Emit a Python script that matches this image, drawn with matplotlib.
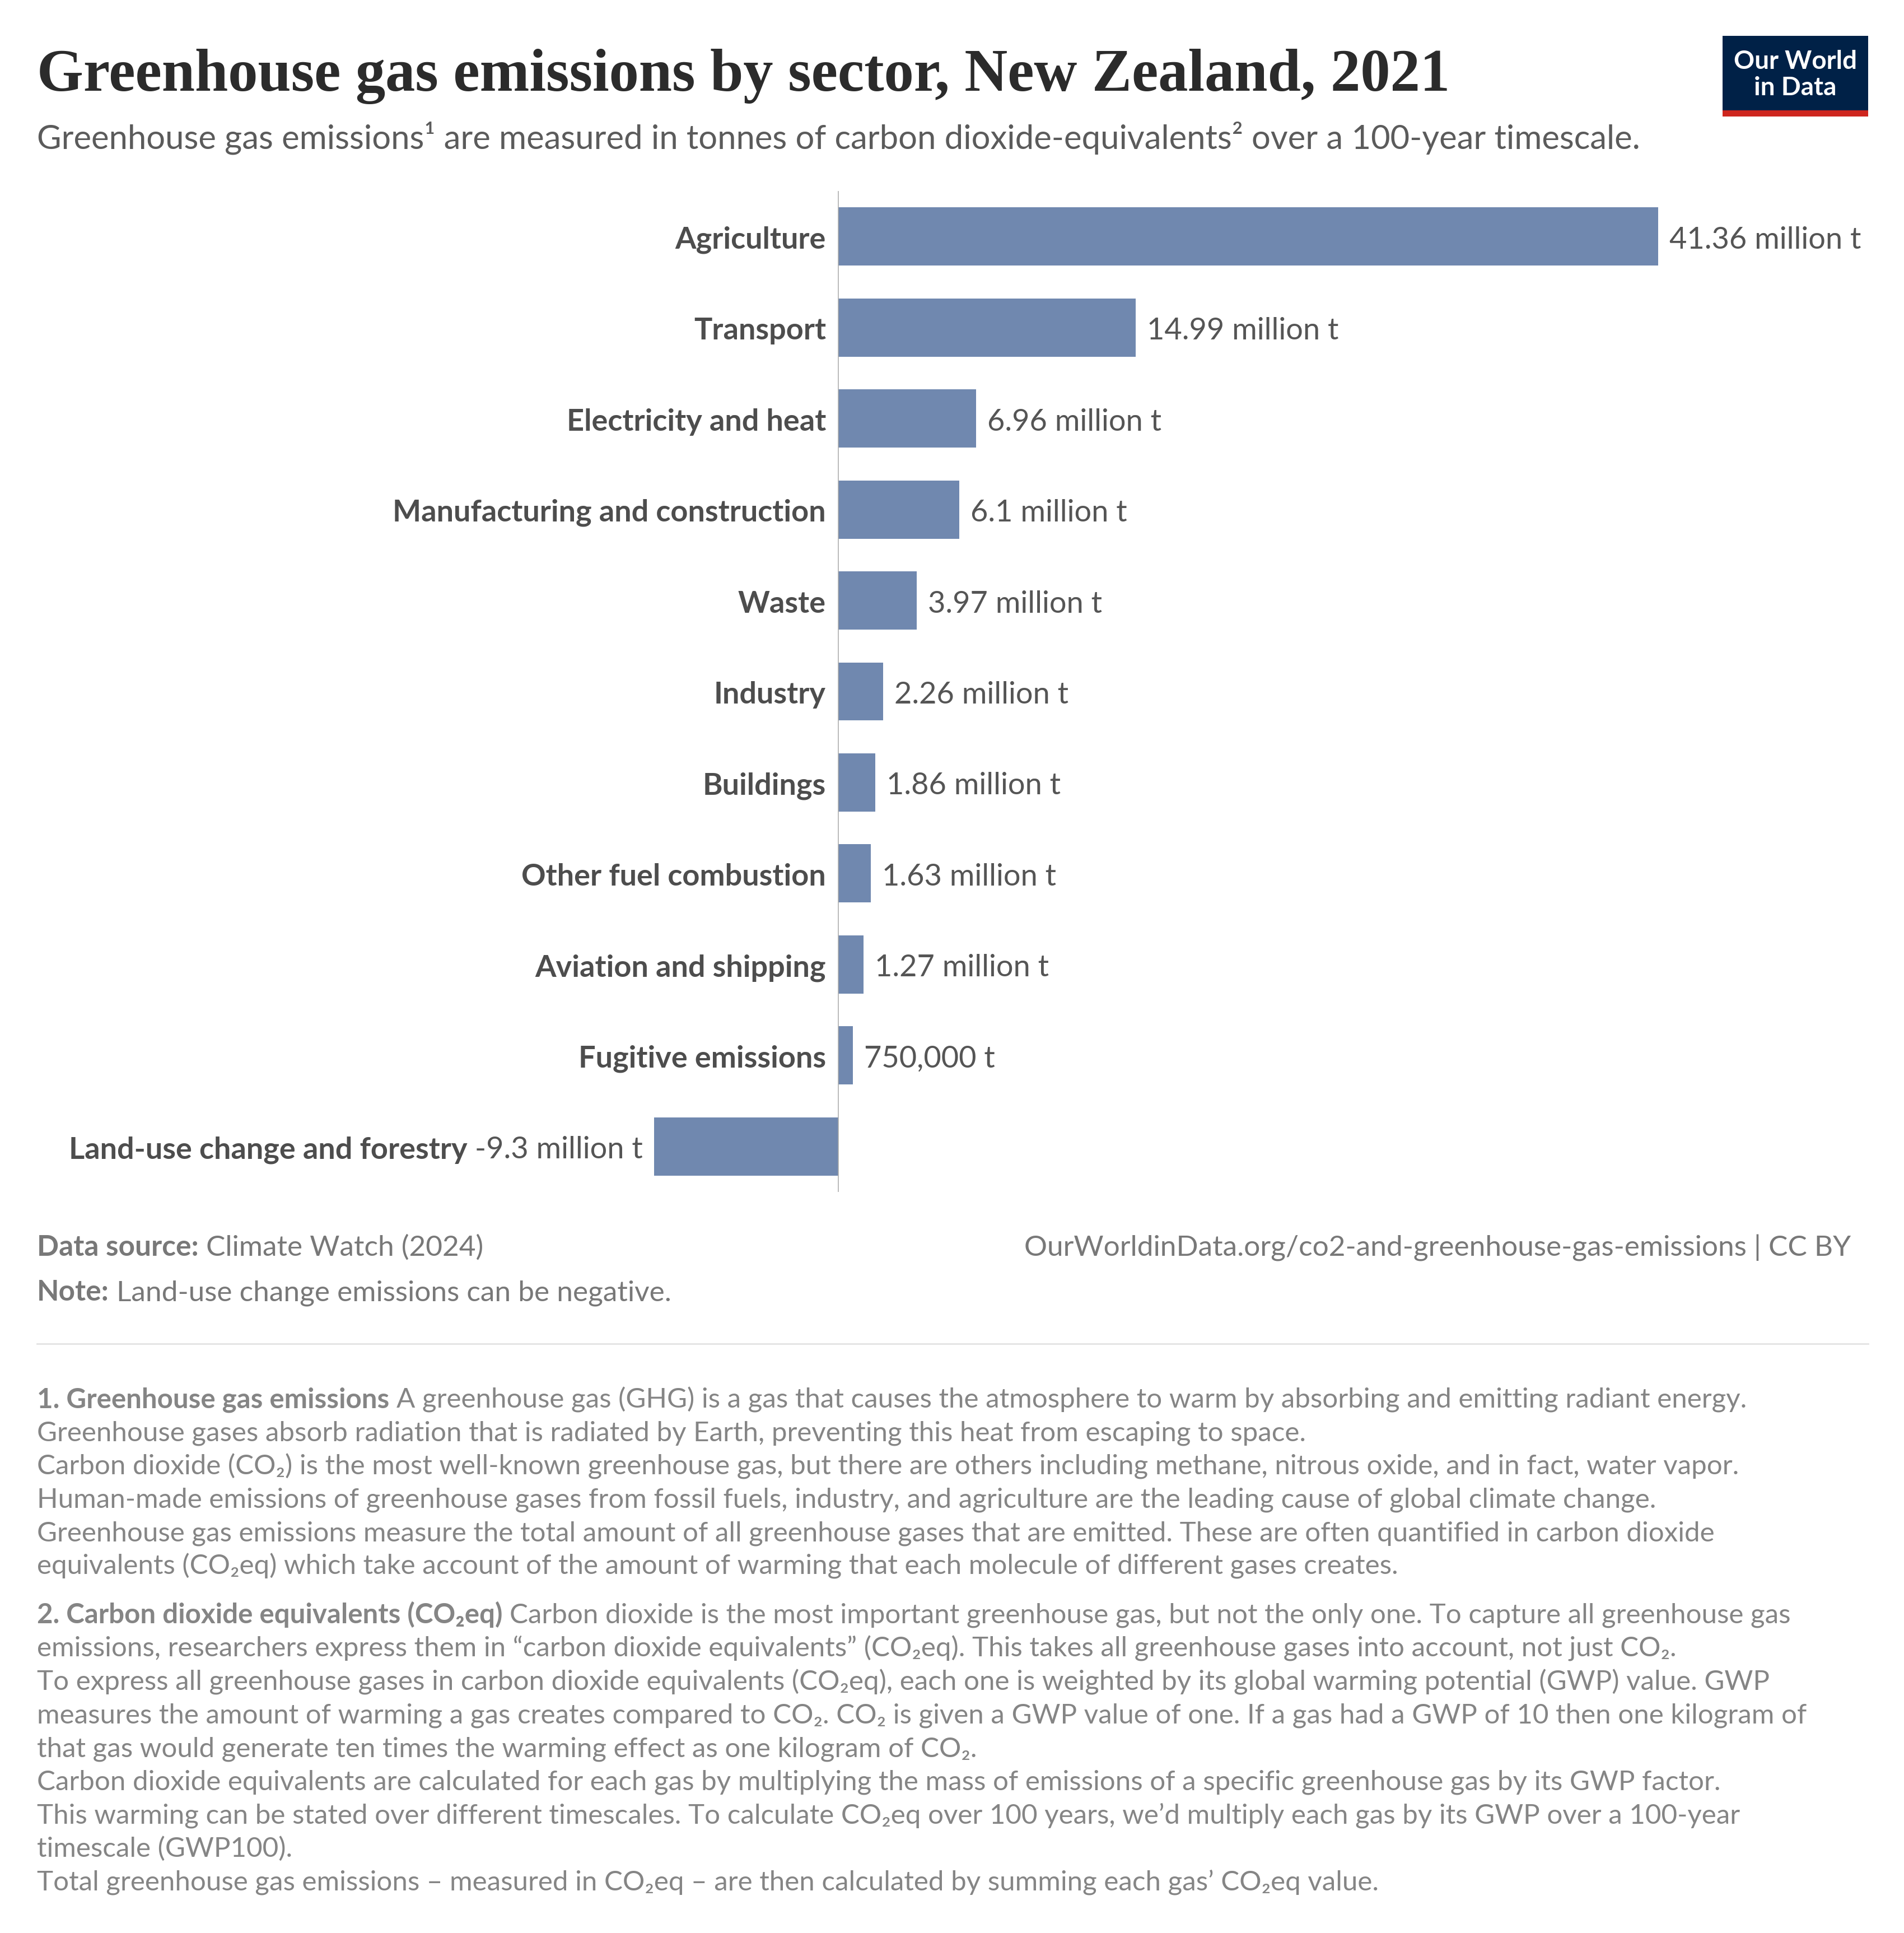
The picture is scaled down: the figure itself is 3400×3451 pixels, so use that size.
import matplotlib
matplotlib.use("Agg")
import matplotlib.pyplot as plt
from matplotlib.patches import Rectangle
from matplotlib.lines import Line2D

W, H, DPI = 3400, 3451, 100

sectors = ["Agriculture", "Transport", "Electricity and heat",
           "Manufacturing and construction", "Waste", "Industry", "Buildings",
           "Other fuel combustion", "Aviation and shipping", "Fugitive emissions",
           "Land-use change and forestry"]
values = [41.36, 14.99, 6.96, 6.1, 3.97, 2.26, 1.86, 1.63, 1.27, 0.75, -9.3]  # million t CO2eq

title = "Greenhouse gas emissions by sector, New Zealand, 2021"
subtitle = ("Greenhouse gas emissions\u00b9 are measured in tonnes of carbon "
            "dioxide-equivalents\u00b2 over a 100-year timescale.")

notes_1 = [
    [("1. Greenhouse gas emissions", "bold"),
     ("A greenhouse gas (GHG) is a gas that causes the atmosphere to warm by absorbing and emitting radiant energy.", "normal")],
    [("Greenhouse gases absorb radiation that is radiated by Earth, preventing this heat from escaping to space.", "normal")],
    [("Carbon dioxide (CO\u2082) is the most well-known greenhouse gas, but there are others including methane, nitrous oxide, and in fact, water vapor.", "normal")],
    [("Human-made emissions of greenhouse gases from fossil fuels, industry, and agriculture are the leading cause of global climate change.", "normal")],
    [("Greenhouse gas emissions measure the total amount of all greenhouse gases that are emitted. These are often quantified in carbon dioxide", "normal")],
    [("equivalents (CO\u2082eq) which take account of the amount of warming that each molecule of different gases creates.", "normal")],
]
notes_2 = [
    [("2. Carbon dioxide equivalents (CO\u2082eq)", "bold"),
     ("Carbon dioxide is the most important greenhouse gas, but not the only one. To capture all greenhouse gas", "normal")],
    [("emissions, researchers express them in \u201ccarbon dioxide equivalents\u201d (CO\u2082eq). This takes all greenhouse gases into account, not just CO\u2082.", "normal")],
    [("To express all greenhouse gases in carbon dioxide equivalents (CO\u2082eq), each one is weighted by its global warming potential (GWP) value. GWP", "normal")],
    [("measures the amount of warming a gas creates compared to CO\u2082. CO\u2082 is given a GWP value of one. If a gas had a GWP of 10 then one kilogram of", "normal")],
    [("that gas would generate ten times the warming effect as one kilogram of CO\u2082.", "normal")],
    [("Carbon dioxide equivalents are calculated for each gas by multiplying the mass of emissions of a specific greenhouse gas by its GWP factor.", "normal")],
    [("This warming can be stated over different timescales. To calculate CO\u2082eq over 100 years, we\u2019d multiply each gas by its GWP over a 100-year", "normal")],
    [("timescale (GWP100).", "normal")],
    [("Total greenhouse gas emissions \u2013 measured in CO\u2082eq \u2013 are then calculated by summing each gas\u2019 CO\u2082eq value.", "normal")],
]

SANS = ["Lato", "DejaVu Sans"]
BAR = "#7088af"


def fx(x):
    return x / W


def fy(y):
    return 1 - y / H


def fmt(v):
    if abs(v) >= 1:
        return f"{v:g} million t"
    return f"{v * 1e6:,.0f} t"


fig = plt.figure(figsize=(W / DPI, H / DPI), dpi=DPI)
fig.patch.set_facecolor("white")
renderer = fig.canvas.get_renderer()


def text_width(t):
    return t.get_window_extent(renderer).width


def runs(x, y, parts, size, color):
    # draw bold / regular pieces one after the other on one baseline
    probe = fig.text(0, 0, "x x", fontsize=size, family=SANS)
    probe2 = fig.text(0, 0, "xx", fontsize=size, family=SANS)
    space = text_width(probe) - text_width(probe2)
    probe.remove()
    probe2.remove()
    for txt, weight in parts:
        t = fig.text(fx(x), fy(y), txt, fontsize=size, color=color, weight=weight,
                     family=SANS, va="baseline", ha="left")
        x += text_width(t) + space


# header
fig.text(fx(66), fy(162), title, fontsize=76.7, weight="bold", family=["Liberation Serif", "DejaVu Serif"],
         color="#2b2b2b", va="baseline")
fig.text(fx(66), fy(265), subtitle, fontsize=43, family=SANS, color="#5b5b5b", va="baseline")

# logo
fig.add_artist(Rectangle((fx(3076), fy(197)), fx(260), 133 / H, transform=fig.transFigure,
                         facecolor="#002147", edgecolor="none"))
fig.add_artist(Rectangle((fx(3076), fy(208)), fx(260), 11 / H, transform=fig.transFigure,
                         facecolor="#ce261e", edgecolor="none"))
fig.text(fx(3206), fy(123), "Our World", fontsize=33, weight="bold", family=SANS,
         color="white", ha="center", va="baseline")
fig.text(fx(3206), fy(170), "in Data", fontsize=33, weight="bold", family=SANS,
         color="white", ha="center", va="baseline")

# bars
n = len(sectors)
ax = fig.add_axes([fx(1072), fy(2128), fx(2984) - fx(1072), fy(341) - fy(2128)])
ax.barh(range(n), values, height=0.64, color=BAR)
ax.set_xlim(-12, 42)
ax.set_ylim(n - 0.5, -0.5)
ax.axvline(0, color="#a8a8a8", lw=1.1)
ax.axis("off")

LAB = 39
DY = -6
for i, (s, v) in enumerate(zip(sectors, values)):
    if v >= 0:
        ax.annotate(fmt(v), (v, i), xytext=(20, DY), textcoords="offset pixels",
                    ha="left", va="center", fontsize=LAB, family=SANS, color="#555555")
        ax.annotate(s, (0, i), xytext=(-22, DY), textcoords="offset pixels",
                    ha="right", va="center", fontsize=LAB, family=SANS, weight="bold", color="#4d4d4d")
    else:
        t = ax.annotate(fmt(v), (v, i), xytext=(-20, DY), textcoords="offset pixels",
                        ha="right", va="center", fontsize=LAB, family=SANS, color="#555555")
        off = 20 + text_width(t) + 13
        ax.annotate(s, (v, i), xytext=(-off, DY), textcoords="offset pixels",
                    ha="right", va="center", fontsize=LAB, family=SANS, weight="bold", color="#4d4d4d")

# footer
FOOT = "#787878"
runs(66, 2242, [("Data source:", "bold"), ("Climate Watch (2024)", "normal")], 37, FOOT)
fig.text(fx(3305), fy(2242), "OurWorldinData.org/co2-and-greenhouse-gas-emissions | CC BY",
         fontsize=37, family=SANS, color=FOOT, ha="right", va="baseline")
runs(66, 2322, [("Note:", "bold"), ("Land-use change emissions can be negative.", "normal")], 37, FOOT)

fig.add_artist(Line2D([fx(66), fx(3336)], [fy(2399), fy(2399)], transform=fig.transFigure,
                      color="#e3e3e3", lw=2))

# notes
NOTE = "#858585"
NS = 35.5
y = 2513
for line in notes_1:
    runs(66, y, line, NS, NOTE)
    y += 59.6
y = 2898
for line in notes_2:
    runs(66, y, line, NS, NOTE)
    y += 59.6

fig.savefig("out.png", dpi=DPI, facecolor="white")
